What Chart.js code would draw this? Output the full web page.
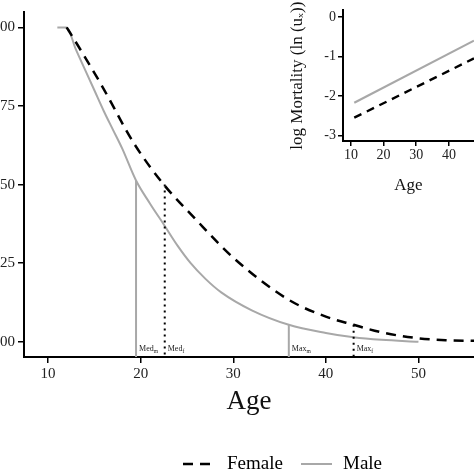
<!DOCTYPE html>
<html><head><meta charset="utf-8">
<script src="https://cdn.jsdelivr.net/npm/chart.js@4"></script>
<style>
html,body{margin:0;padding:0;width:474px;height:474px;overflow:hidden;background:#fff;position:relative}
#mainWrap{position:absolute;left:-30px;top:0;width:504px;height:474px}
#insetWrap{position:absolute;left:283px;top:0;width:191px;height:200px}
</style></head><body>
<div id="mainWrap"><canvas id="main"></canvas></div>
<div id="insetWrap"><canvas id="inset"></canvas></div>
<script>
const maleAges = [11, 12, 13, 14, 15, 16, 17, 18, 19.5, 21, 22.5, 24, 25.4, 27, 28.7, 32, 36, 40, 43, 46, 50];
const maleSurv = [1.0, 1.0, 0.93, 0.865, 0.80, 0.735, 0.675, 0.615, 0.513, 0.44, 0.373, 0.305, 0.25, 0.20, 0.157, 0.10, 0.054, 0.028, 0.014, 0.006, 0.0];
const femaleAges = [12, 12.5, 15.7, 19.3, 22.5, 25.8, 30.1, 35.9, 40, 43, 46, 50, 53, 56];
const femaleSurv = [1.0, 0.977, 0.82, 0.63, 0.50, 0.394, 0.265, 0.135, 0.08, 0.054, 0.03, 0.011, 0.005, 0.003];
const markers = [
  {label:'Med', sub:'m', age:19.5, top:0.513, sex:'m'},
  {label:'Med', sub:'f', age:22.6, top:0.50, sex:'f'},
  {label:'Max', sub:'m', age:36, top:0.054, sex:'m'},
  {label:'Max', sub:'f', age:43, top:0.054, sex:'f'}
];
const xTicks = [10, 20, 30, 40, 50];
const yTicks = [0, 0.25, 0.5, 0.75, 1.0];
const insetAges = [11, 47.7];
const insetMale = [-2.17, -0.6];
const insetFemale = [-2.55, -1.05];
const insetXTicks = [10, 20, 30, 40];
const insetYTicks = [-3, -2, -1, 0];

const GRAY = '#a8a8a8';
const SERIF = '"Liberation Serif","DejaVu Serif",serif';
const pts = (xs, ys) => xs.map((x, i) => ({x, y: ys[i]}));

const markerPlugin = {
  id:'markers',
  afterDatasetsDraw(c){
    const ctx=c.ctx, xs=c.scales.x, ys=c.scales.y;
    ctx.save();
    markers.forEach(m=>{
      const px=xs.getPixelForValue(m.age);
      ctx.beginPath();
      ctx.moveTo(px, ys.getPixelForValue(m.top));
      ctx.lineTo(px, ys.bottom);
      if(m.sex==='f'){ctx.strokeStyle='#000';ctx.lineWidth=2;ctx.setLineDash([2,4]);}
      else {ctx.strokeStyle=GRAY;ctx.lineWidth=2;ctx.setLineDash([]);}
      ctx.stroke();
      ctx.setLineDash([]);
      ctx.fillStyle='#222';
      ctx.font='8px '+SERIF;
      ctx.textBaseline='alphabetic';
      const ty=ys.bottom-6;
      ctx.fillText(m.label, px+3, ty);
      const w=ctx.measureText(m.label).width;
      ctx.font='5.5px '+SERIF;
      ctx.fillText(m.sub, px+3+w, ty+2);
    });
    const ly=464;
    ctx.lineWidth=2.5;
    ctx.strokeStyle='#000';ctx.setLineDash([10,7]);
    ctx.beginPath();ctx.moveTo(213,ly);ctx.lineTo(243,ly);ctx.stroke();
    ctx.setLineDash([]);
    ctx.strokeStyle=GRAY;ctx.lineWidth=2;
    ctx.beginPath();ctx.moveTo(331,ly);ctx.lineTo(362,ly);ctx.stroke();
    ctx.fillStyle='#000';ctx.font='19px '+SERIF;ctx.textBaseline='middle';
    ctx.fillText('Female',257,ly);
    ctx.fillText('Male',373,ly);
    ctx.restore();
  }
};

new Chart(document.getElementById('main'),{
  type:'line',
  data:{datasets:[
    {label:'Female',data:pts(femaleAges,femaleSurv),borderColor:'#000',borderWidth:2.5,borderDash:[10,7],pointRadius:0,cubicInterpolationMode:'monotone'},
    {label:'Male',data:pts(maleAges,maleSurv),borderColor:GRAY,borderWidth:2,pointRadius:0,cubicInterpolationMode:'monotone'}
  ]},
  options:{
    responsive:true,maintainAspectRatio:false,animation:false,
    layout:{padding:{bottom:52}},
    plugins:{legend:{display:false},tooltip:{enabled:false}},
    scales:{
      x:{type:'linear',min:7.4,max:56,
        afterBuildTicks:a=>{a.ticks=xTicks.map(v=>({value:v}));},
        afterFit:a=>{a.height=65;},
        border:{color:'#000',width:2},
        grid:{display:true,drawOnChartArea:false,drawTicks:true,tickLength:6,color:'#000',lineWidth:1.5},
        ticks:{color:'#222',font:{family:SERIF,size:15},padding:2,maxRotation:0},
        title:{display:true,text:'Age',color:'#111',font:{family:SERIF,size:27},padding:{top:6}}
      },
      y:{type:'linear',min:-0.0485,max:1.049,
        afterBuildTicks:a=>{a.ticks=yTicks.map(v=>({value:v}));},
        afterFit:a=>{a.width=54;},
        border:{color:'#000',width:2},
        grid:{display:true,drawOnChartArea:false,drawTicks:true,tickLength:6,color:'#000',lineWidth:1.5},
        ticks:{color:'#222',font:{family:SERIF,size:15},padding:3,callback:v=>v.toFixed(2)}
      }
    }
  },
  plugins:[markerPlugin]
});

new Chart(document.getElementById('inset'),{
  type:'line',
  data:{datasets:[
    {label:'Female',data:pts(insetAges,insetFemale),borderColor:'#000',borderWidth:2.4,borderDash:[8,6],pointRadius:0},
    {label:'Male',data:pts(insetAges,insetMale),borderColor:GRAY,borderWidth:2.2,pointRadius:0}
  ]},
  options:{
    responsive:true,maintainAspectRatio:false,animation:false,
    layout:{padding:0},
    plugins:{legend:{display:false},tooltip:{enabled:false}},
    scales:{
      x:{type:'linear',min:7.55,max:47.7,
        afterBuildTicks:a=>{a.ticks=insetXTicks.map(v=>({value:v}));},
        afterFit:a=>{a.height=59;},
        border:{color:'#000',width:2},
        grid:{display:true,drawOnChartArea:false,drawTicks:true,tickLength:5,color:'#000',lineWidth:1.5},
        ticks:{color:'#222',font:{family:SERIF,size:14},padding:1,maxRotation:0},
        title:{display:true,text:'Age',color:'#111',font:{family:SERIF,size:17},padding:{top:6}}
      },
      y:{type:'linear',min:-3.14,max:0.165,
        afterBuildTicks:a=>{a.ticks=insetYTicks.map(v=>({value:v}));},
        afterFit:a=>{a.width=60;},
        border:{color:'#000',width:2},
        grid:{display:true,drawOnChartArea:false,drawTicks:true,tickLength:5,color:'#000',lineWidth:1.5},
        ticks:{color:'#222',font:{family:SERIF,size:14},padding:2},
        title:{display:true,text:'log Mortality (ln (uₓ))',color:'#111',font:{family:SERIF,size:17},padding:{bottom:0}}
      }
    }
  }
});
</script>
</body></html>
